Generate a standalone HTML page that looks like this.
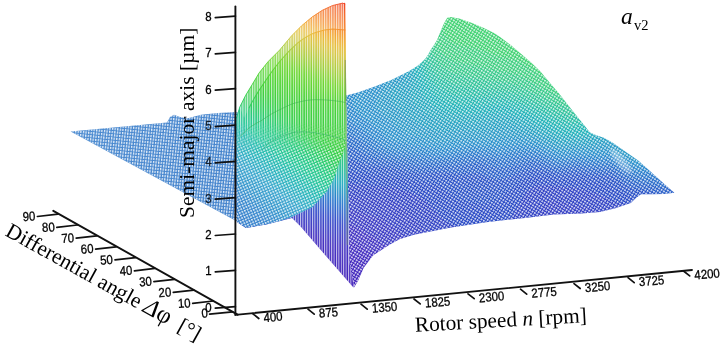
<!DOCTYPE html>
<html><head><meta charset="utf-8"><title>Semi-major axis surface plot</title>
<style>html,body{margin:0;padding:0;background:#fff;width:720px;height:351px;overflow:hidden}svg{display:block}text{font-family:"Liberation Sans",sans-serif;fill:#000}.s{font-family:"Liberation Serif",serif}</style>
</head><body>
<svg width="720" height="351" viewBox="0 0 720 351">
<defs>
<linearGradient id="gWing" gradientUnits="userSpaceOnUse" x1="70" y1="130" x2="240" y2="180"><stop offset="0.000" stop-color="#4a8ad0"/><stop offset="1.000" stop-color="#4282cc"/></linearGradient>
<linearGradient id="gFin" gradientUnits="userSpaceOnUse" x1="345" y1="3" x2="237.6" y2="241.7"><stop offset="0.000" stop-color="#f04225"/><stop offset="0.038" stop-color="#f36629"/><stop offset="0.077" stop-color="#f57c29"/><stop offset="0.101" stop-color="#f58e2c"/><stop offset="0.136" stop-color="#f0ac33"/><stop offset="0.164" stop-color="#e6be3b"/><stop offset="0.188" stop-color="#d8c542"/><stop offset="0.220" stop-color="#c0c93f"/><stop offset="0.258" stop-color="#a0ce3b"/><stop offset="0.310" stop-color="#6ed52f"/><stop offset="0.373" stop-color="#4ed32f"/><stop offset="0.443" stop-color="#3bcf3b"/><stop offset="0.505" stop-color="#2ccc58"/><stop offset="0.568" stop-color="#1ec08b"/><stop offset="0.634" stop-color="#1ea8be"/><stop offset="0.704" stop-color="#2575cc"/><stop offset="0.774" stop-color="#3349c9"/><stop offset="0.861" stop-color="#422fc0"/><stop offset="1.000" stop-color="#3b16b6"/></linearGradient>
<linearGradient id="gTeal" gradientUnits="userSpaceOnUse" x1="350" y1="110" x2="250.7" y2="237.8"><stop offset="0.000" stop-color="#3bcf3b"/><stop offset="0.200" stop-color="#3bcf3b"/><stop offset="0.260" stop-color="#33cf42"/><stop offset="0.400" stop-color="#23c980"/><stop offset="0.470" stop-color="#25c698"/><stop offset="0.530" stop-color="#23bbaf"/><stop offset="0.600" stop-color="#2cb2c0"/><stop offset="0.680" stop-color="#3ba6ce"/><stop offset="0.760" stop-color="#3598cc"/><stop offset="0.850" stop-color="#3889ce"/><stop offset="1.000" stop-color="#357ccb"/></linearGradient>
<linearGradient id="gFade" gradientUnits="userSpaceOnUse" x1="0" y1="92" x2="0" y2="128"><stop offset="0" stop-color="#000"/><stop offset="1" stop-color="#fff"/></linearGradient>
<mask id="mFade" maskUnits="userSpaceOnUse" x="0" y="0" width="720" height="351"><rect x="0" y="0" width="720" height="351" fill="url(#gFade)"/></mask>
<pattern id="pV" width="2.4" height="4" patternUnits="userSpaceOnUse"><rect x="0" y="0" width="1" height="4" fill="#fff" fill-opacity="0.75"/></pattern>
<pattern id="pM" width="2.8" height="2.8" patternUnits="userSpaceOnUse" patternTransform="rotate(32)"><rect x="0" y="0" width="1.7" height="1.7" fill="#fff" fill-opacity="0.85"/></pattern>
<pattern id="pW" width="2.6" height="3.2" patternUnits="userSpaceOnUse" patternTransform="rotate(6)"><rect x="0" y="0" width="1.3" height="2.3" fill="#fff" fill-opacity="0.85"/></pattern>
<linearGradient id="gTop" gradientUnits="userSpaceOnUse" x1="0" y1="122" x2="0" y2="152"><stop offset="0" stop-color="#fff"/><stop offset="1" stop-color="#000"/></linearGradient>
<linearGradient id="gBot" gradientUnits="userSpaceOnUse" x1="0" y1="122" x2="0" y2="152"><stop offset="0" stop-color="#000"/><stop offset="1" stop-color="#fff"/></linearGradient>
<mask id="mTop" maskUnits="userSpaceOnUse" x="0" y="0" width="720" height="351"><rect x="0" y="0" width="720" height="351" fill="url(#gTop)"/></mask>
<mask id="mBot" maskUnits="userSpaceOnUse" x="0" y="0" width="720" height="351"><rect x="0" y="0" width="720" height="351" fill="url(#gBot)"/></mask>
<pattern id="pT" width="2.8" height="2.8" patternUnits="userSpaceOnUse" patternTransform="rotate(-24)"><rect x="0" y="0" width="1.7" height="1.7" fill="#fff" fill-opacity="0.85"/></pattern>
<filter id="fBlur" filterUnits="userSpaceOnUse" x="0" y="-20" width="720" height="391"><feGaussianBlur stdDeviation="1.5"/></filter>
</defs>
<rect width="720" height="351" fill="#fff"/>
<clipPath id="cRight"><polygon points="346.0,95.5 357.0,92.7 374.2,86.8 391.3,80.0 408.4,71.4 417.0,66.2 422.0,62.0 425.5,58.5 428.5,54.0 430.6,50.0 434.0,45.0 437.0,40.0 439.5,34.0 441.7,28.5 443.7,24.0 445.6,20.5 447.0,18.3 448.5,17.1 452.0,17.2 459.9,18.8 471.3,22.8 482.7,27.4 494.0,33.0 500.0,37.0 511.0,45.3 520.0,53.0 530.0,61.5 540.0,71.0 550.0,83.0 560.0,94.8 570.0,107.5 580.0,120.0 590.0,132.6 597.0,135.5 603.7,137.8 612.8,142.8 625.6,151.8 638.5,160.8 651.3,172.3 664.0,183.8 674.4,192.8 664.0,194.0 651.3,194.2 641.0,194.3 635.9,198.0 630.8,203.0 615.4,208.2 600.0,212.0 581.5,213.6 554.0,214.5 525.0,218.0 488.0,221.9 451.0,227.4 414.0,234.8 400.0,239.0 389.4,244.7 373.0,255.6 363.7,267.8 358.0,281.0 354.0,287.5 349.3,262.0 348.3,200.0"/></clipPath>
<g clip-path="url(#cRight)"><g filter="url(#fBlur)">
<rect x="330" y="-10" width="370" height="320" fill="#3b18b7"/>
<path d="M344 0 684 0 684 296 363.3 296 340 284.3 340 0Z" fill="#3d1db9"/>
<path d="M344 0 684 0 684 296 385.2 296 340 272.9 340 0Z" fill="#3e22bb"/>
<path d="M344 0 684 0 684 293.8 660 291.1 640 290.4 616 291.7 587.5 296 410.5 296 388 285.8 340 261.1 340 0Z" fill="#3f27bd"/>
<path d="M344 0 684 0 684 279.8 652 275.8 620 275.7 588 280.1 524.9 296 447.1 296 428 290.8 404 281.4 360 260 340 248.3 340 0Z" fill="#412cbf"/>
<path d="M344 0 684 0 684 266.1 664 262.7 644 260.6 624 260 604 261.1 576 266.1 532.7 280 512 285.1 488 287.9 468 287.4 444 283.4 416 274.1 378 256 340 234.2 340 0Z" fill="#3f31c1"/>
<path d="M344 0 684 0 684 253 660 248.5 636 245.7 612 244.6 592 245.3 580 247 568 250 528 266.2 509.1 272 488 275.2 468 275 444 270.8 420 262.4 391.2 248 360 228.8 340 219.6 340 0Z" fill="#3937c2"/>
<path d="M344 0 684 0 684 240.6 660 235.5 636 231.9 592 227.3 576 227.2 568 228.3 560 230.8 528 249.2 508 257.6 488 261.7 468 261.8 448 258.3 430.2 252 408.8 240 388 223.4 380 218.4 340 205.6 340 0Z" fill="#333cc3"/>
<path d="M344 0 684 0 684 229 656 222.8 612 214.8 584 206.8 560 201.5 552 200.7 548 201.1 544 203.6 540 212 530.9 224 522.7 232 512 239.3 501 244 492 246.3 480 247.6 468 247.2 451.6 244 441 240 433.5 236 422.9 228 404.4 208 398.8 204 392 200.7 384 199.2 360 197.7 340 192.5 340 0Z" fill="#2d41c3"/>
<path d="M344 0 684 0 684 218.3 620 203.3 610.2 200 596 193.1 584 189.7 575 188 540 184.4 532 187.2 526.5 192 512.3 216 504 224.1 496 227.9 488 229.8 472 230.2 460 228 448 222.7 440 216.2 425 200 418.7 196 409.4 192 392 187.4 356 185 340 179.6 340 0Z" fill="#2746c4"/>
<path d="M344 0 684 0 684 208.4 632 196 622.1 192 608 184 604 182.9 580 179.1 560 179 540 176.2 532 176.9 524 180.1 496 201.4 488 203.9 480 204 464 200.9 456 198.2 452 196 443.4 188 436 184.7 388 176.5 360 174.1 352 171.8 340 166.6 340 0Z" fill="#254fc5"/>
<path d="M344 0 684 0 684 199.3 636 188.9 628 185.9 612 176.1 608 175 596 174.8 576 172 560 173.3 536 168.8 524 170.8 504 179.1 496 179.8 480 173.5 476 172.9 460 174.1 440 172 420 173 408 171.5 388 167.1 372 165.6 356 161.1 340 153.4 340 0Z" fill="#265dc7"/>
<path d="M344 0 684 0 684 191 636 182.2 628 179 612 170.1 596 169.5 576 167 560 168.5 552 167.1 536 162.3 528 162.6 504 167.8 496 167.2 480 162.2 456 165.3 424 166 412 165.1 372 157 364 153.7 346.3 144 340 140.3 340 0Z" fill="#276ac8"/>
<path d="M344 0 684 0 684 183.3 636 176.4 612 165.4 596 164.8 576 162.4 560 164.2 556 163.6 536 156.7 524 156.8 504 159.9 476 156.1 448 159.7 428 160.1 412 158.6 388 154.7 376 150.6 340 127 340 0Z" fill="#2877ca"/>
<path d="M344 0 684 0 684 175.9 652 172 640 172 632 169.8 616 162.1 608 160.1 596 160 576 158 560 160 540 152.6 532 151 520 151 500 153.2 484 151.3 472 151 444 154.9 436 155.1 392 150.1 385.4 148 348.2 120 344 115.3 340 108.2 340 0Z" fill="#2884cb"/>
<path d="M344 0 684 0 684 168.8 660 166.7 636 165.9 628 163.1 612 155.5 608 154.7 596 155.2 576 153.7 560 155.1 540 147.8 528 145.1 516 144.9 500 146.4 468 145.5 440 149.8 392 141.3 388 138.9 376 127.8 360 115.7 356 111.9 352 104 352 100 353.5 96 356 93.2 360 91.1 368 89.7 372.5 88 375.1 84 376.4 76 374.3 68 368 60.5 356.7 52 340 41.3 340 0Z" fill="#288fca"/>
<path d="M344 0 684 0 684 161.8 636 160.6 628 158.2 612 149.4 608 148.7 596 150.1 576 149.4 560 150.1 536 141.3 520 138.3 508 137.9 480 140 464 138.9 444 142 436 142 427.5 140 403.8 132 397.7 128 389.8 120 380 112 376.9 108 376 104 376.9 100 384 84.7 389.4 76 390.6 72 390 68 385 60 376 50.8 360 38.3 340 24.7 340 0Z" fill="#2597c5"/>
<path d="M344 0 684 0 684 154.8 636 154.9 628 152.8 616 144.6 608 141.6 604 141.6 592 144.7 560 145.1 532 134.4 508 129.6 500 129.3 480 131.8 460 130.6 444 132.2 436 131.3 426.5 128 416 122.7 408 117.5 397.1 108 392 102.2 389.6 96 389.7 92 392 88 400 83.3 403.1 80 404.7 76 404 71.5 396 59.1 380 42 364 28 340 10 340 0Z" fill="#239fc1"/>
<path d="M348 0 684 0 684 147.8 644 148.9 636 148.3 628 145.4 616 137.6 608 135.2 604 135.2 588 140 564 140.5 556 138.7 528 126.9 504 120.5 496 120.3 476 122.7 448 121.8 436 119.1 428 114.9 420 109.3 414.7 104 412.1 100 410.3 92 411.4 80 410.5 72 408 65.3 402.1 56 392 43.5 376 26.5 345.5 0Z" fill="#21a7bd"/>
<path d="M364 0 684 0 684 140.5 652 141.5 640 141 632 138.7 616 131.1 608 129.7 600 131 588 135 576 135.6 564 134.9 556 132.5 528 120.2 508 113.7 496 112.4 476 114.1 460 113.9 448 112.2 440 109.5 431 104 423.5 96 419.6 88 413.1 64 408.9 56 396 37.9 384 23.1 361.6 0Z" fill="#1eafb8"/>
<path d="M376 0 684 0 684 132.9 656 133.7 644 133.1 636 131.4 620 125.9 612 124.4 604 124.7 584 129.9 568 129.3 560 127.2 528 113.3 508 106.5 496 105 464 106.1 452 104 444 100.9 436 95.9 428 87.5 423.6 80 416.9 60 412.6 52 396 26.6 375 0Z" fill="#20b6b0"/>
<path d="M388 0 684 0 684 125 648 125 620 119.2 612 118.4 604 118.9 584 123.3 572 123.3 556 118.5 524 104.6 508 99.2 496 97.5 464 97.1 456 95.6 448 92.7 436 84.9 428 75.5 424.5 68 420.6 56 400 19.6 386.8 0Z" fill="#27bca3"/>
<path d="M400 0 684 0 684 116.8 652 116.7 624 112.7 612 112 584 116 572 116 556 111.2 524 97 512 92.6 496 89.5 468 87.8 452 84 440 77.4 432 69 408 18.8 397.6 0Z" fill="#2dc297"/>
<path d="M412 0 684 0 684 108.2 656 108.1 616 104.9 604 105.5 584 108.3 572 108.3 556 103.4 524 88.4 512 84 500 81.5 468 77.3 452 73.1 444 68.9 440 65.6 428 48 424 40 415.4 16 408.2 0Z" fill="#34c88a"/>
<path d="M420 0 684 0 684 99.2 660 99.2 616 97 584 99.7 572 99.3 560 96 550.4 92 524 77.9 516 74.8 456 62.3 444 55.8 436 47.6 432 41.6Z" fill="#3acd7e"/>
<path d="M436 0 684 0 684 89.7 620 88.3 584 89.7 572 88.6 564 86.4 548 79 520 61.1 512 58.6 500 56.7 480 49.3 460 45.4 452 42.2 448 39.4 444 33.4 433 0Z" fill="#3ed170"/>
<path d="M464 0 684 0 684 79.9 588 78.3 576 76.8 568 74.4 560 70.8 549.3 64 528 46.1 484 12.4 476 7.5 460.2 0Z" fill="#41d161"/>
<path d="M500 0 684 0 684 69.6 604 66.9 588 65 576 61.7 564.5 56 556 49.9 516 14.2 498.4 0Z" fill="#43d252"/>
<path d="M524 0 684 0 684 58.7 620 55.4 600 52.6 588 49.3 576 44 564 35.9Z" fill="#45d243"/>
<path d="M548 0 684 0 684 47.3 632 43.5 612 40.1 600 36.7 588 31.7 575.2 24 546.1 0Z" fill="#48d333"/>
<path d="M572 0 684 0 684 35.3 644 31.4 616 25.4 604 21.1 592 15.3 569.7 0Z" fill="#51d52d"/>
<path d="M600 0 684 0 684 22.6 656 19.1 632 14 614.2 8 597.9 0Z" fill="#61d82e"/>
<path d="M640 0 684 0 684 9.3 660 5.4 638.5 0Z" fill="#71db2f"/>
</g></g>
<g clip-path="url(#cRight)" filter="url(#fBlur)"><ellipse cx="621" cy="161" rx="16" ry="4.5" transform="rotate(50 621 161)" fill="#fff" fill-opacity="0.3"/></g>
<polygon points="346.0,95.5 357.0,92.7 374.2,86.8 391.3,80.0 408.4,71.4 417.0,66.2 422.0,62.0 425.5,58.5 428.5,54.0 430.6,50.0 434.0,45.0 437.0,40.0 439.5,34.0 441.7,28.5 443.7,24.0 445.6,20.5 447.0,18.3 448.5,17.1 452.0,17.2 459.9,18.8 471.3,22.8 482.7,27.4 494.0,33.0 500.0,37.0 511.0,45.3 520.0,53.0 530.0,61.5 540.0,71.0 550.0,83.0 560.0,94.8 570.0,107.5 580.0,120.0 590.0,132.6 597.0,135.5 603.7,137.8 612.8,142.8 625.6,151.8 638.5,160.8 651.3,172.3 664.0,183.8 674.4,192.8 664.0,194.0 651.3,194.2 641.0,194.3 635.9,198.0 630.8,203.0 615.4,208.2 600.0,212.0 581.5,213.6 554.0,214.5 525.0,218.0 488.0,221.9 451.0,227.4 414.0,234.8 400.0,239.0 389.4,244.7 373.0,255.6 363.7,267.8 358.0,281.0 354.0,287.5 349.3,262.0 348.3,200.0" fill="url(#pM)"/>
<polygon points="70.6,131.6 167.0,122.5 170.0,117.0 174.0,114.8 180.0,117.0 187.0,118.5 201.0,114.7 218.0,113.0 238.0,112.0 238.0,222.0" fill="url(#gWing)"/>
<polygon points="70.6,131.6 167.0,122.5 170.0,117.0 174.0,114.8 180.0,117.0 187.0,118.5 201.0,114.7 218.0,113.0 238.0,112.0 238.0,222.0" fill="url(#pW)"/>
<clipPath id="cFin"><polygon points="236.5,118.0 239.8,107.0 245.5,95.6 252.4,84.2 259.2,72.8 268.3,61.4 279.7,50.0 291.5,35.9 301.8,25.6 312.0,17.1 322.3,10.3 332.6,5.5 342.8,3.1 344.8,4.2 346.0,100.0 348.3,200.0 349.3,262.0 354.0,287.5 352.8,286.7 326.0,256.0 300.0,225.7 292.0,218.0 266.0,224.5 246.0,228.0 237.0,222.0"/></clipPath>
<polygon points="236.5,118.0 239.8,107.0 245.5,95.6 252.4,84.2 259.2,72.8 268.3,61.4 279.7,50.0 291.5,35.9 301.8,25.6 312.0,17.1 322.3,10.3 332.6,5.5 342.8,3.1 344.8,4.2 346.0,100.0 348.3,200.0 349.3,262.0 354.0,287.5 352.8,286.7 326.0,256.0 300.0,225.7 292.0,218.0 266.0,224.5 246.0,228.0 237.0,222.0" fill="url(#gFin)"/>
<g clip-path="url(#cFin)"><g mask="url(#mFade)"><polygon points="230.0,90.0 350.0,90.0 345.5,147.0 339.7,161.0 334.0,178.4 326.9,191.3 312.6,207.0 291.0,217.5 266.0,226.0 246.0,230.0 230.0,225.0" fill="url(#gTeal)"/></g></g>
<polygon points="346.0,100.0 345.5,147.0 339.7,161.0 334.0,178.4 326.9,191.3 312.6,207.0 291.0,217.5 292.0,218.0 300.0,225.7 326.0,256.0 352.8,286.7 354.0,287.5 349.3,262.0 348.3,200.0" fill="url(#pV)"/>
<g mask="url(#mTop)"><polygon points="236.5,118.0 239.8,107.0 245.5,95.6 252.4,84.2 259.2,72.8 268.3,61.4 279.7,50.0 291.5,35.9 301.8,25.6 312.0,17.1 322.3,10.3 332.6,5.5 342.8,3.1 344.8,4.2 346.0,100.0 348.3,200.0 349.3,262.0 354.0,287.5 352.8,286.7 326.0,256.0 300.0,225.7 292.0,218.0 266.0,224.5 246.0,228.0 237.0,222.0" fill="url(#pV)"/></g>
<g clip-path="url(#cFin)"><g mask="url(#mBot)"><polygon points="230.0,90.0 350.0,90.0 345.5,147.0 339.7,161.0 334.0,178.4 326.9,191.3 312.6,207.0 291.0,217.5 266.0,226.0 246.0,230.0 230.0,225.0" fill="url(#pT)"/></g></g>
<polygon points="239.8,107.0 245.5,95.6 252.4,84.2 259.2,72.8 268.3,61.4 279.7,50.0 291.5,35.9 301.8,25.6 312.0,17.1 322.3,10.3 332.6,5.5 342.8,3.1 344.8,4.2 345.0,30.0 339.4,29.6 332.6,29.0 324.0,30.0 315.5,32.5 306.0,37.0 298.0,42.7 289.0,51.0 281.0,60.0 272.0,71.0 264.0,83.0 256.0,96.0 249.0,108.0 244.0,118.0" fill="#fff" fill-opacity="0.2"/>
<g fill="none" stroke-linecap="round" stroke-width="1">
<path d="M240.3 136.4C248 128 254 124 260.8 121C268 116 274 112 281.3 109C288 105.5 292 103.5 298.4 102.2C305 100.5 310 99.8 315.5 99.7C324 99.6 332 100.3 339.4 101.4L345.5 102.5" stroke="#35b04a" stroke-opacity="0.5"/>
<path d="M262 150C268 143 274 139 281 136.4C287 134 292 132.6 298 132C304 131.6 310 132 315.5 133C324 134.3 332 136 339 138L345.8 140.5" stroke="#2fa86a" stroke-opacity="0.45"/>
<path d="M249 108C253 100 259 90 264 83C270 74 275 67 281 60C287 53 292 48 298 42.7C304 38 310 34.5 315.5 32.5C322 30.3 328 29.2 332.6 29L345 30" stroke="url(#gFin)" stroke-opacity="0.9" stroke-width="1.1"/>
<path d="M344.6 3.5L345.6 100" stroke="url(#gFin)" stroke-width="1.3"/>
<polyline points="236.5,118.0 239.8,107.0 245.5,95.6 252.4,84.2 259.2,72.8 268.3,61.4 279.7,50.0 291.5,35.9 301.8,25.6 312.0,17.1 322.3,10.3 332.6,5.5 342.8,3.1 344.8,4.2" stroke="url(#gFin)" stroke-width="1" stroke-opacity="0.85" stroke-linejoin="round"/>
</g>
<path d="M345.3 60L347.3 245" stroke="#7a8a70" stroke-opacity="0.55" stroke-width="1.2" fill="none"/>
<g stroke="#111" fill="none" stroke-linecap="round" stroke-width="1.9">
<path d="M235.4 6.5V314.7"/>
<path d="M237.6 314.7L53.3 210.8"/>
<path d="M235.4 314.9L692 270"/>
</g>
<g stroke="#111" fill="none" stroke-linecap="round" stroke-width="1.7">
<path d="M235.4 306.7L215.3 308.2"/>
<path d="M235.4 270.4L215.3 271.9"/>
<path d="M235.4 234.0L215.3 235.5"/>
<path d="M235.4 197.7L215.3 199.2"/>
<path d="M235.4 161.4L215.3 162.9"/>
<path d="M235.4 125.1L215.3 126.6"/>
<path d="M235.4 88.7L215.3 90.2"/>
<path d="M235.4 52.4L215.3 53.9"/>
<path d="M235.4 16.1L215.3 17.6"/>
<path d="M232.6 311.8L209.6 314.1"/>
<path d="M213.2 301.0L192.7 303.3"/>
<path d="M193.8 290.1L173.3 292.4"/>
<path d="M174.4 279.3L153.9 281.6"/>
<path d="M154.9 268.4L134.4 270.8"/>
<path d="M135.5 257.6L115.0 259.9"/>
<path d="M116.1 246.8L95.6 249.1"/>
<path d="M96.7 235.9L76.2 238.2"/>
<path d="M77.3 225.0L56.8 227.3"/>
<path d="M57.9 214.2L37.4 216.5"/>
<path d="M252.6 313.6L258.8 318.5"/>
<path d="M308.0 309.2L314.2 314.1"/>
<path d="M361.0 304.2L367.2 309.1"/>
<path d="M414.0 299.0L420.2 303.9"/>
<path d="M468.0 293.8L474.2 298.7"/>
<path d="M520.5 289.2L526.7 294.1"/>
<path d="M574.0 283.6L580.2 288.5"/>
<path d="M628.0 277.7L634.2 282.6"/>
<path d="M683.5 271.0L689.7 275.9"/>
</g>
<g font-size="13" text-anchor="end" stroke="#000" stroke-width="0.3">
<text transform="translate(211.6 311.6) scale(0.88 1)">0</text>
<text transform="translate(211.6 275.3) scale(0.88 1)">1</text>
<text transform="translate(211.6 238.9) scale(0.88 1)">2</text>
<text transform="translate(211.6 202.6) scale(0.88 1)" opacity="0.8">3</text>
<text transform="translate(211.6 166.3) scale(0.88 1)" opacity="0.8">4</text>
<text transform="translate(211.6 130.0) scale(0.88 1)" opacity="0.8">5</text>
<text transform="translate(211.6 93.6) scale(0.88 1)">6</text>
<text transform="translate(211.6 57.3) scale(0.88 1)">7</text>
<text transform="translate(211.6 21.0) scale(0.88 1)">8</text>
<text transform="translate(208.1 317.2) rotate(-4) scale(0.88 1)">0</text>
<text transform="translate(190.9 307.2) rotate(-4) scale(0.88 1)">10</text>
<text transform="translate(171.5 296.3) rotate(-4) scale(0.88 1)">20</text>
<text transform="translate(152.1 285.5) rotate(-4) scale(0.88 1)">30</text>
<text transform="translate(132.6 274.6) rotate(-4) scale(0.88 1)">40</text>
<text transform="translate(113.2 263.8) rotate(-4) scale(0.88 1)">50</text>
<text transform="translate(93.8 252.9) rotate(-4) scale(0.88 1)">60</text>
<text transform="translate(74.4 242.1) rotate(-4) scale(0.88 1)">70</text>
<text transform="translate(55.0 231.2) rotate(-4) scale(0.88 1)">80</text>
<text transform="translate(35.6 220.4) rotate(-4) scale(0.88 1)">90</text>
</g>
<g font-size="13" stroke="#000" stroke-width="0.3">
<text transform="translate(263.9 322.2) rotate(-5) scale(0.88 1)">400</text>
<text transform="translate(319.3 317.8) rotate(-5) scale(0.88 1)">875</text>
<text transform="translate(372.3 312.8) rotate(-5) scale(0.88 1)">1350</text>
<text transform="translate(425.3 307.6) rotate(-5) scale(0.88 1)">1825</text>
<text transform="translate(479.3 302.4) rotate(-5) scale(0.88 1)">2300</text>
<text transform="translate(531.8 297.8) rotate(-5) scale(0.88 1)">2775</text>
<text transform="translate(585.3 292.2) rotate(-5) scale(0.88 1)">3250</text>
<text transform="translate(639.3 286.3) rotate(-5) scale(0.88 1)">3725</text>
<text transform="translate(694.8 279.6) rotate(-5) scale(0.88 1)">4200</text>
</g>
<text class="s" font-size="21.5" transform="translate(194 218) rotate(-90)">Semi-major axis [µm]</text>
<text class="s" font-size="21.3" transform="translate(415.2 331.8) rotate(-3.2)">Rotor speed <tspan font-style="italic">n</tspan> [rpm]</text>
<text class="s" font-size="21.5" transform="translate(4.3 235) rotate(29)">Differential angle <tspan font-size="24.5"><tspan font-style="italic">Δ</tspan>φ</tspan>&#160; [°]</text>
<text class="s" font-size="23.5" font-style="italic" x="621" y="24.2">a<tspan font-style="normal" font-size="14.5" dx="1.2" dy="5.5">v2</tspan></text>
</svg></body></html>
